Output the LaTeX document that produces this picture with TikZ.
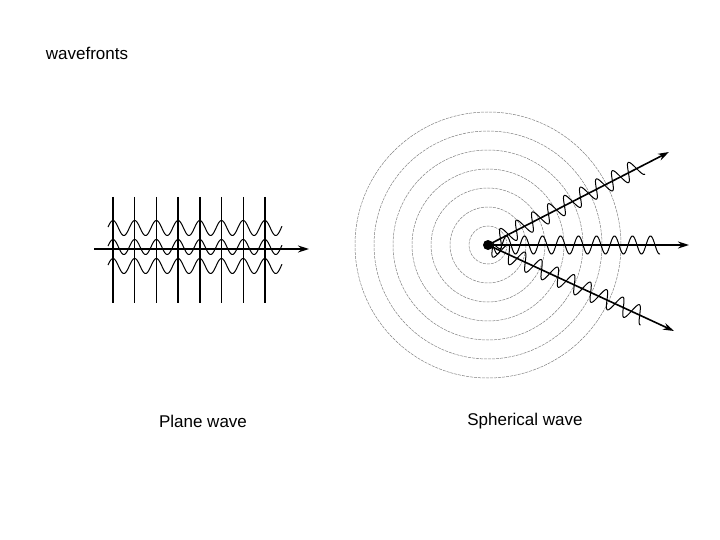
\documentclass[tikz,border=0pt]{standalone}
\usepackage{fontspec}
\setmainfont{Liberation Sans}
\usetikzlibrary{arrows.meta}
\begin{document}
\begin{tikzpicture}[x=1pt,y=-1pt,
  lbl/.style={font=\fontsize{17}{20}\selectfont,inner sep=0pt},
  wave/.style={line width=1pt},
  ray/.style={line width=1.6pt,-{Stealth[length=11pt,width=7pt]}},
  front/.style={line width=1.4pt},
  circ/.style={gray,line width=0.5pt,dash pattern=on 3pt off 1pt}]
\useasboundingbox (0,0) rectangle (720,540);
\node[lbl] (t1) at (87,53) {wavefronts};
\node[lbl] (t2) at (203,421) {Plane wave};
\node[lbl] (t3) at (525,421) {Spherical wave};
% plane wave
\foreach \i in {0,...,7}{\draw[front] (113+21.7*\i,197) -- (113+21.7*\i,303);}
\foreach \c in {228,247,266}{
  \draw[wave] plot[domain=108:282,samples=300] (\x,{\c-7.5*cos(16.59*(\x-113))});}
\coordinate (pa) at (94,249); \coordinate (pb) at (309,249);
\draw[ray] (pa) -- (pb);
% spherical
\coordinate (o) at (488,245);
\foreach \r in {19,38,...,133}{\draw[circ] (o) circle[radius=\r];}
\foreach \a in {0,27.3,-24.7}{
  \draw[wave] plot[domain=5:172,samples=400,variable=\t]
    ({488+\t*cos(\a)+9*sin(20*(\t-5))*sin(\a)},{245-\t*sin(\a)+9*sin(20*(\t-5))*cos(\a)});}
\coordinate (e1) at (689,245);
\coordinate (e2) at (669,152);
\coordinate (e3) at (674,331);
\draw[ray] (o) -- (e1);
\draw[ray] (o) -- (e2);
\draw[ray] (o) -- (e3);
\fill (o) circle[radius=5];
\end{tikzpicture}
\end{document}
